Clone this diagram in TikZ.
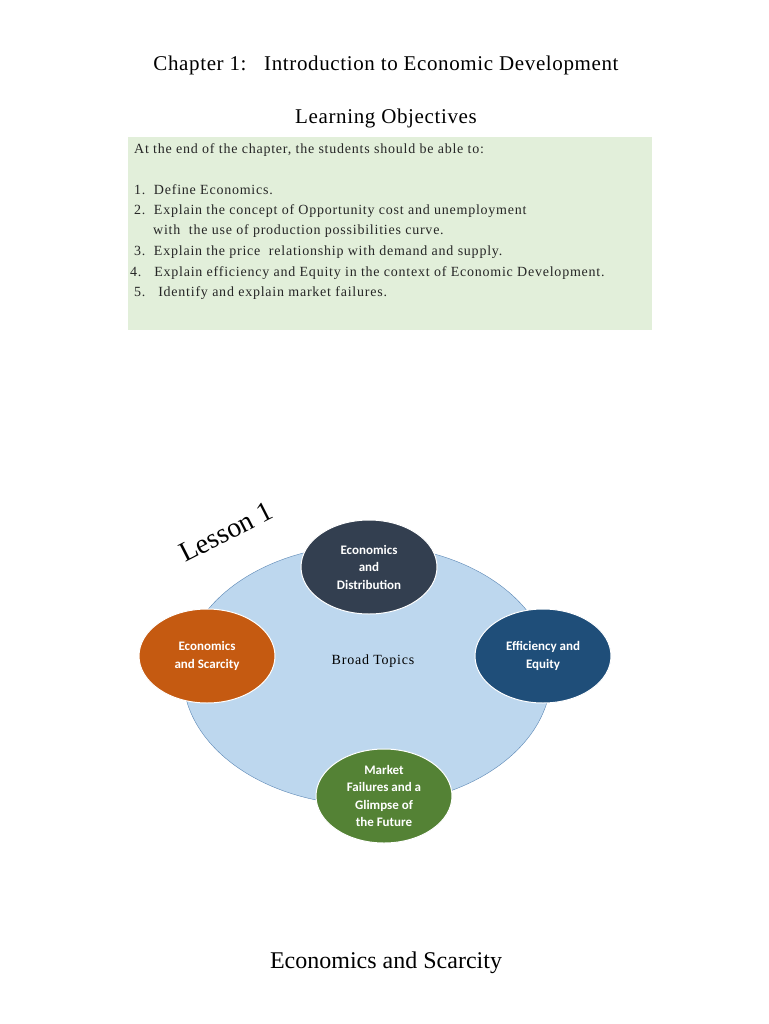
\documentclass[tikz,border=0pt]{standalone}
\usepackage{fontspec}
\setmainfont{Liberation Serif}
\newfontfamily\spacedfont[LetterSpace=5.5]{Liberation Serif}
\newfontfamily\titlefont[LetterSpace=3]{Liberation Serif}
\newfontfamily\carlitofont{Carlito}
\usetikzlibrary{shapes.geometric}
\definecolor{boxg}{HTML}{E2EFDA}
\definecolor{bigb}{HTML}{BDD7EE}
\definecolor{bigline}{HTML}{5B87B5}
\definecolor{ctop}{HTML}{333F50}
\definecolor{cleft}{HTML}{C55A11}
\definecolor{cright}{HTML}{1F4E79}
\definecolor{cbot}{HTML}{548235}
\tikzset{topic/.style={ellipse,minimum width=136pt,minimum height=94pt,inner sep=0pt,draw=white,line width=1pt,text=white,align=center,font=\carlitofont\bfseries\fontsize{13}{17.5}\selectfont},
obj/.style={anchor=west,font=\spacedfont\fontsize{14}{16}\selectfont,text=black!85,inner sep=0pt}}
\begin{document}
\begin{tikzpicture}[x=1pt,y=-1pt]
\useasboundingbox[fill=white] (0,0) rectangle (768,1024);
\node[font=\titlefont\fontsize{21}{24}\selectfont] (t1) at (386,65) {Chapter 1:\ \ \ Introduction to Economic Development};
\node[font=\titlefont\fontsize{21}{24}\selectfont] (t2) at (386,118) {Learning Objectives};
\node[fill=boxg,minimum width=524pt,minimum height=193pt,inner sep=0pt] (box) at (390,233.5) {};
\node[obj] (o0) at (134,150) {At the end of the chapter, the students should be able to:};
\node[obj] (o1) at (134,190) {1.\ \ Define Economics.};
\node[obj] (o2) at (134,211) {2.\ \ Explain the concept of Opportunity cost and unemployment};
\node[obj] (o2b) at (153,231) {with\ \ the use of production possibilities curve.};
\node[obj] (o3) at (134,252) {3.\ \ Explain the price\ \ relationship with demand and supply.};
\node[obj] (o4) at (130,273) {4.\ \ \ Explain efficiency and Equity in the context of Economic Development.};
\node[obj] (o5) at (134,293) {5.\ \ \ Identify and explain market failures.};
\node[ellipse,fill=bigb,draw=bigline,minimum width=368pt,minimum height=260pt] (big) at (367,675) {};
\node[font=\spacedfont\fontsize{14}{16}\selectfont] (bt) at (373,661) {Broad Topics};
\node[topic,fill=ctop] (top) at (369,567) {Economics\\and\\Distribution};
\node[topic,fill=cleft] (left) at (207,656) {Economics\\and Scarcity};
\node[topic,fill=cright] (right) at (543,656) {Efficiency and\\Equity};
\node[topic,fill=cbot] (bot) at (384,796) {Market\\Failures and a\\Glimpse of\\the Future};
\node[rotate=27,font=\fontsize{28}{30}\selectfont] (les) at (226,532) {Lesson 1};
\node[font=\fontsize{24}{28}\selectfont] (t3) at (386,963) {Economics and Scarcity};
\end{tikzpicture}
\end{document}
